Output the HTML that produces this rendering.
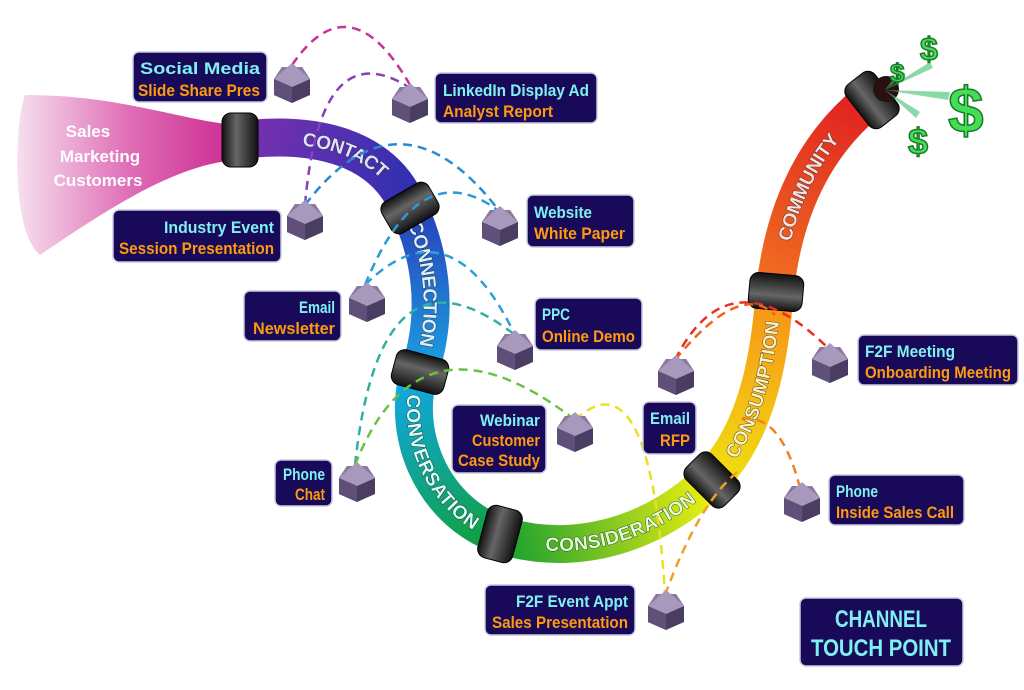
<!DOCTYPE html>
<html><head><meta charset="utf-8"><style>
html,body{margin:0;padding:0;background:#fff;}
svg{display:block;}
.lb{font-family:"Liberation Sans",sans-serif;font-weight:bold;font-size:17px;}
.c{fill:#7ff0f0}.o{fill:#ff9a10}
</style></head><body>
<svg width="1024" height="690" viewBox="0 0 1024 690" xmlns="http://www.w3.org/2000/svg">
<defs>
<linearGradient id="fun" x1="0" x2="1" y1="0" y2="0"><stop offset="0" stop-color="#f6e0ee"/><stop offset="0.5" stop-color="#e070b8"/><stop offset="1" stop-color="#cc2a90"/></linearGradient>
<linearGradient id="g1" gradientUnits="userSpaceOnUse" x1="240" y1="140" x2="405" y2="200"><stop offset="0" stop-color="#7a30b0"/><stop offset="1" stop-color="#3030b0"/></linearGradient>
<linearGradient id="g2" gradientUnits="userSpaceOnUse" x1="405" y1="200" x2="420" y2="370"><stop offset="0" stop-color="#2a3ab8"/><stop offset="1" stop-color="#1aa0e0"/></linearGradient>
<linearGradient id="g3" gradientUnits="userSpaceOnUse" x1="420" y1="370" x2="500" y2="535"><stop offset="0" stop-color="#10a8e8"/><stop offset="1" stop-color="#10a040"/></linearGradient>
<linearGradient id="g4" gradientUnits="userSpaceOnUse" x1="500" y1="535" x2="710" y2="480"><stop offset="0" stop-color="#18a030"/><stop offset="1" stop-color="#f0f010"/></linearGradient>
<linearGradient id="g5" gradientUnits="userSpaceOnUse" x1="710" y1="480" x2="775" y2="290"><stop offset="0" stop-color="#f0e010"/><stop offset="1" stop-color="#f89018"/></linearGradient>
<linearGradient id="g6" gradientUnits="userSpaceOnUse" x1="775" y1="290" x2="870" y2="100"><stop offset="0" stop-color="#f07020"/><stop offset="1" stop-color="#e02020"/></linearGradient>
<linearGradient id="ring" x1="0" x2="1"><stop offset="0" stop-color="#111"/><stop offset="0.4" stop-color="#666"/><stop offset="1" stop-color="#111"/></linearGradient>
<g id="gem"><polygon points="-18,-4 -10,-16 10,-16 18,-4 18,12 0,20 -18,12" fill="#4a3d62"/><polygon points="-18,-4 -10,-16 10,-16 18,-4 0,4" fill="#8a7aa0"/><polygon points="0,-20 -18,-4 0,4 18,-4" fill="#a898bc"/><polygon points="-18,-4 0,4 0,20 -18,12" fill="#5e5078"/></g>
<path id="p1" d="M240,140 C320,130 380,150 405,200"/>
<path id="p2" d="M405,200 C430,250 440,310 420,370"/>
<path id="p3" d="M420,370 C400,430 430,510 500,535"/>
<path id="p4" d="M500,535 C580,560 660,530 710,480"/>
<path id="p5" d="M710,480 C760,430 770,350 775,290"/>
<path id="p6" d="M775,290 C785,200 820,140 870,100"/>
</defs>
<path d="M25,95 C120,95 180,120 235,125 L235,160 C180,165 120,200 40,255 C10,230 15,120 25,95 Z" fill="url(#fun)"/>
<text x="88" y="137" font-family="Liberation Sans" font-weight="bold" font-size="17" fill="#fff" text-anchor="middle">Sales</text>
<text x="100" y="162" font-family="Liberation Sans" font-weight="bold" font-size="17" fill="#fff" text-anchor="middle">Marketing</text>
<text x="98" y="186" font-family="Liberation Sans" font-weight="bold" font-size="17" fill="#fff" text-anchor="middle">Customers</text>
<g fill="none" stroke-width="38" stroke-linecap="butt">
<use href="#p1" stroke="url(#g1)"/>
<use href="#p2" stroke="url(#g2)"/>
<use href="#p3" stroke="url(#g3)"/>
<use href="#p4" stroke="url(#g4)"/>
<use href="#p5" stroke="url(#g5)"/>
<use href="#p6" stroke="url(#g6)"/>
</g>
<g font-family="Liberation Sans" font-weight="bold" font-size="19" text-anchor="middle" stroke="#222" stroke-width="0.8" paint-order="stroke">
<text fill="#e0e0ff" dy="7"><textPath href="#p1" startOffset="58%">CONTACT</textPath></text>
<text fill="#d8f0ff" dy="7"><textPath href="#p2" startOffset="50%">CONNECTION</textPath></text>
<text fill="#d8fff8" dy="7"><textPath href="#p3" startOffset="50%">CONVERSATION</textPath></text>
<text fill="#e0ffd0" dy="7"><textPath href="#p4" startOffset="55%">CONSIDERATION</textPath></text>
<text fill="#fff0c0" dy="7"><textPath href="#p5" startOffset="50%">CONSUMPTION</textPath></text>
<text fill="#ffe0e0" dy="7"><textPath href="#p6" startOffset="50%">COMMUNITY</textPath></text>
</g>
<g fill="url(#ring)" stroke="#000" stroke-width="1">
<rect x="-18" y="-27" width="36" height="54" rx="9" transform="translate(240,140)"/>
<rect x="-18" y="-27" width="36" height="54" rx="9" transform="translate(410,208) rotate(60)"/>
<rect x="-18" y="-27" width="36" height="54" rx="9" transform="translate(420,372) rotate(105)"/>
<rect x="-18" y="-27" width="36" height="54" rx="9" transform="translate(500,534) rotate(15)"/>
<rect x="-18" y="-27" width="36" height="54" rx="9" transform="translate(712,480) rotate(-45)"/>
<rect x="-18" y="-27" width="36" height="54" rx="9" transform="translate(776,292) rotate(-85)"/>
<rect x="-18" y="-27" width="36" height="54" rx="9" transform="translate(872,100) rotate(-38)"/>
</g>
<circle cx="886" cy="89" r="13" fill="#2a1010"/>
<g fill="#3fbf6f" opacity="0.6"><polygon points="885,90 900,70 906,74"/><polygon points="885,90 930,62 933,68"/><polygon points="885,90 950,92 948,100"/><polygon points="885,90 920,112 916,118"/></g>
<g font-family="Liberation Sans" font-weight="bold" fill="#44dd55" stroke="#1a7a2a" stroke-width="1.5">
<text x="890" y="82" font-size="26">$</text>
<text x="920" y="60" font-size="32">$</text>
<text x="948" y="132" font-size="64">$</text>
<text x="908" y="154" font-size="36">$</text>
</g>
<g fill="none" stroke-width="2.5" stroke-dasharray="9,6">
<path d="M292,65 Q350,-20 410,85" stroke="#c8309a"/>
<path d="M305,205 Q320,30 410,88" stroke="#8a40b8"/>
<path d="M305,205 Q400,80 500,212" stroke="#2a8ad0"/>
<path d="M365,285 Q420,150 500,212" stroke="#2a9ad8"/>
<path d="M365,285 Q450,200 515,335" stroke="#2aa0d8"/>
<path d="M355,465 Q380,230 515,335" stroke="#30b0a0"/>
<path d="M355,465 Q420,300 575,420" stroke="#6cc040"/>
<path d="M575,420 Q650,350 665,595" stroke="#e8e020"/>
<path d="M675,360 Q730,250 830,350" stroke="#e83020"/>
<path d="M675,360 Q740,280 775,315" stroke="#f06020"/>
<path d="M800,488 Q780,410 740,420" stroke="#f08020"/>
<path d="M665,595 Q700,500 740,470" stroke="#f0a020"/>
</g>
<use href="#gem" x="292" y="83"/><use href="#gem" x="410" y="103"/><use href="#gem" x="305" y="220"/>
<use href="#gem" x="500" y="226"/><use href="#gem" x="367" y="302"/><use href="#gem" x="515" y="350"/>
<use href="#gem" x="575" y="432"/><use href="#gem" x="357" y="482"/><use href="#gem" x="676" y="375"/>
<use href="#gem" x="830" y="363"/><use href="#gem" x="802" y="502"/><use href="#gem" x="666" y="610"/>
<g fill="#180a58" stroke="#c8c8e0" stroke-width="1.5">
<rect x="133" y="52" width="134" height="50" rx="6"/>
<rect x="435" y="73" width="162" height="50" rx="6"/>
<rect x="113" y="210" width="168" height="52" rx="6"/>
<rect x="527" y="195" width="107" height="52" rx="6"/>
<rect x="244" y="291" width="97" height="50" rx="6"/>
<rect x="535" y="298" width="107" height="52" rx="6"/>
<rect x="452" y="405" width="94" height="68" rx="6"/>
<rect x="275" y="460" width="57" height="46" rx="6"/>
<rect x="643" y="402" width="53" height="52" rx="6"/>
<rect x="858" y="335" width="160" height="50" rx="6"/>
<rect x="829" y="475" width="135" height="50" rx="6"/>
<rect x="485" y="585" width="150" height="50" rx="6"/>
<rect x="800" y="598" width="163" height="68" rx="6"/>
</g>
<g class="lb" lengthAdjust="spacingAndGlyphs">
<text x="260" y="74" text-anchor="end" class="c" textLength="120" lengthAdjust="spacingAndGlyphs">Social Media</text><text x="260" y="96" text-anchor="end" class="o" textLength="122" lengthAdjust="spacingAndGlyphs">Slide Share Pres</text>
<text x="443" y="96" class="c" textLength="146" lengthAdjust="spacingAndGlyphs">LinkedIn Display Ad</text><text x="443" y="117" class="o" textLength="110" lengthAdjust="spacingAndGlyphs">Analyst Report</text>
<text x="274" y="233" text-anchor="end" class="c" textLength="110" lengthAdjust="spacingAndGlyphs">Industry Event</text><text x="274" y="254" text-anchor="end" class="o" textLength="155" lengthAdjust="spacingAndGlyphs">Session Presentation</text>
<text x="534" y="218" class="c" textLength="58" lengthAdjust="spacingAndGlyphs">Website</text><text x="534" y="239" class="o" textLength="91" lengthAdjust="spacingAndGlyphs">White Paper</text>
<text x="335" y="313" text-anchor="end" class="c" textLength="36" lengthAdjust="spacingAndGlyphs">Email</text><text x="335" y="334" text-anchor="end" class="o" textLength="82" lengthAdjust="spacingAndGlyphs">Newsletter</text>
<text x="542" y="320" class="c" textLength="28" lengthAdjust="spacingAndGlyphs">PPC</text><text x="542" y="342" class="o" textLength="93" lengthAdjust="spacingAndGlyphs">Online Demo</text>
<text x="540" y="426" text-anchor="end" class="c" textLength="60" lengthAdjust="spacingAndGlyphs">Webinar</text><text x="540" y="446" text-anchor="end" class="o" textLength="68" lengthAdjust="spacingAndGlyphs">Customer</text><text x="540" y="466" text-anchor="end" class="o" textLength="82" lengthAdjust="spacingAndGlyphs">Case Study</text>
<text x="325" y="480" text-anchor="end" class="c" textLength="42" lengthAdjust="spacingAndGlyphs">Phone</text><text x="325" y="500" text-anchor="end" class="o" textLength="30" lengthAdjust="spacingAndGlyphs">Chat</text>
<text x="690" y="424" text-anchor="end" class="c" textLength="40" lengthAdjust="spacingAndGlyphs">Email</text><text x="690" y="446" text-anchor="end" class="o" textLength="30" lengthAdjust="spacingAndGlyphs">RFP</text>
<text x="865" y="357" class="c" textLength="90" lengthAdjust="spacingAndGlyphs">F2F Meeting</text><text x="865" y="378" class="o" textLength="146" lengthAdjust="spacingAndGlyphs">Onboarding Meeting</text>
<text x="836" y="497" class="c" textLength="42" lengthAdjust="spacingAndGlyphs">Phone</text><text x="836" y="518" class="o" textLength="118" lengthAdjust="spacingAndGlyphs">Inside Sales Call</text>
<text x="628" y="607" text-anchor="end" class="c" textLength="112" lengthAdjust="spacingAndGlyphs">F2F Event Appt</text><text x="628" y="628" text-anchor="end" class="o" textLength="136" lengthAdjust="spacingAndGlyphs">Sales Presentation</text>
<text x="881" y="627" text-anchor="middle" class="c" font-size="24" textLength="92" lengthAdjust="spacingAndGlyphs">CHANNEL</text><text x="881" y="656" text-anchor="middle" class="c" font-size="24" textLength="140" lengthAdjust="spacingAndGlyphs">TOUCH POINT</text>
</g>
</svg>
</body></html>
